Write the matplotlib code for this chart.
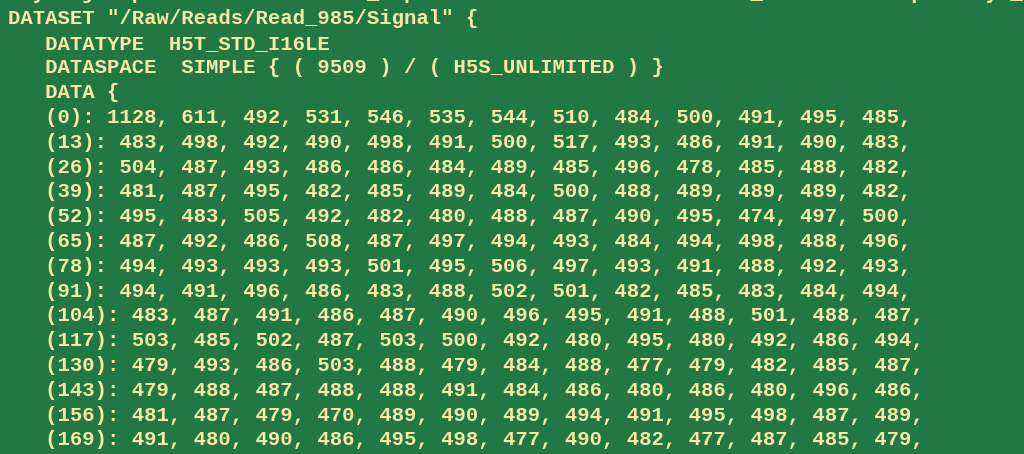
import matplotlib
matplotlib.use("Agg")
import matplotlib.pyplot as plt

# ---- data ----
dataset_path = "/Raw/Reads/Read_985/Signal"
datatype = "H5T_STD_I16LE"
dataspace_size = 9509
values_per_row = 13
signal = [
    1128, 611, 492, 531, 546, 535, 544, 510, 484, 500, 491, 495, 485,
    483, 498, 492, 490, 498, 491, 500, 517, 493, 486, 491, 490, 483,
    504, 487, 493, 486, 486, 484, 489, 485, 496, 478, 485, 488, 482,
    481, 487, 495, 482, 485, 489, 484, 500, 488, 489, 489, 489, 482,
    495, 483, 505, 492, 482, 480, 488, 487, 490, 495, 474, 497, 500,
    487, 492, 486, 508, 487, 497, 494, 493, 484, 494, 498, 488, 496,
    494, 493, 493, 493, 501, 495, 506, 497, 493, 491, 488, 492, 493,
    494, 491, 496, 486, 483, 488, 502, 501, 482, 485, 483, 484, 494,
    483, 487, 491, 486, 487, 490, 496, 495, 491, 488, 501, 488, 487,
    503, 485, 502, 487, 503, 500, 492, 480, 495, 480, 492, 486, 494,
    479, 493, 486, 503, 488, 479, 484, 488, 477, 479, 482, 485, 487,
    479, 488, 487, 488, 488, 491, 484, 486, 480, 486, 480, 496, 486,
    481, 487, 479, 470, 489, 490, 489, 494, 491, 495, 498, 487, 489,
    491, 480, 490, 486, 495, 498, 477, 490, 482, 477, 487, 485, 479,
]

# clipped previous line (only descenders visible): column -> char
clipped_cols = {2: "y", 6: "j", 10: "p", 29: "_", 32: "p", 60: "_", 73: "p", 79: "y", 81: "_"}

# ---- build the lines of text ----
top_line = "".join(clipped_cols.get(i, " ") for i in range(max(clipped_cols) + 1))
lines = [
    top_line,
    'DATASET "%s" {' % dataset_path,
    "   DATATYPE  %s" % datatype,
    "   DATASPACE  SIMPLE { ( %d ) / ( H5S_UNLIMITED ) }" % dataspace_size,
    "   DATA {",
]
for start in range(0, len(signal), values_per_row):
    row = signal[start:start + values_per_row]
    lines.append("   (%d): " % start + "".join("%d, " % v for v in row).rstrip())

# ---- draw ----
BG = "#227842"
FG = "#F8E8A4"
W, H = 1024, 454
fig = plt.figure(figsize=(W / 100, H / 100), dpi=100, facecolor=BG)
ax = fig.add_axes([0, 0, 1, 1])
ax.set_facecolor(BG)
ax.set_xlim(0, W)
ax.set_ylim(H, 0)
ax.axis("off")

x0 = 8
baseline0 = -1.0
line_step = 24.8
for i, s in enumerate(lines):
    ax.text(x0, baseline0 + i * line_step, s, family=["Liberation Mono", "DejaVu Sans Mono"],
            fontweight="bold", fontsize=14.85, color=FG, ha="left", va="baseline")

fig.savefig("out.png", dpi=100, facecolor=BG)
